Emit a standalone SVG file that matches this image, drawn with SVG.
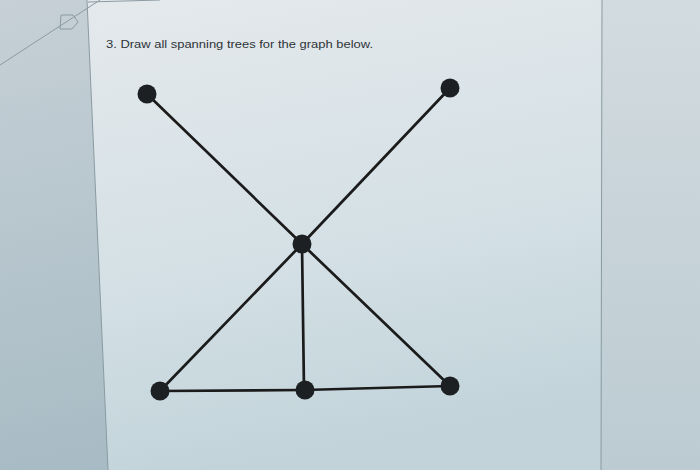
<svg xmlns="http://www.w3.org/2000/svg" width="700" height="470" viewBox="0 0 700 470">
<defs>
<linearGradient id="bg" x1="0" y1="0" x2="0.3" y2="1">
<stop offset="0" stop-color="#c6d0d6"/>
<stop offset="1" stop-color="#a6bac3"/>
</linearGradient>
<linearGradient id="paper" x1="0" y1="0" x2="0.2" y2="1">
<stop offset="0" stop-color="#e4e9ec"/>
<stop offset="0.6" stop-color="#d4e0e5"/>
<stop offset="1" stop-color="#c2d4da"/>
</linearGradient>
<linearGradient id="right" x1="0" y1="0" x2="0" y2="1">
<stop offset="0" stop-color="#d2dbe0"/>
<stop offset="1" stop-color="#bccbd2"/>
</linearGradient>
<style>
.edge{stroke:#1b1b1b;stroke-width:2.7;stroke-linecap:round;fill:none}
.node{fill:#1c2022}
.border{stroke:#8a9aa2;stroke-width:1;fill:none}
.label{font-family:"Liberation Sans",Arial,sans-serif;font-size:11.5px;fill:#2f3438}
</style>
</defs>
<rect width="700" height="470" fill="url(#bg)"/>
<polygon points="87,0 602,0 601,470 108,470" fill="url(#paper)"/>
<polygon points="602,0 700,0 700,470 601,470" fill="url(#right)"/>
<line class="border" x1="87" y1="0" x2="108" y2="470"/>
<line class="border" x1="602" y1="0" x2="601" y2="470"/>
<line class="border" x1="0" y1="65" x2="100" y2="0"/>
<line class="border" x1="88" y1="2" x2="160" y2="0"/>
<polygon class="border" points="61,15 73,15 78,22 72,29 60,29" stroke="#5f6b72" stroke-width="1.3"/>
<text class="label" x="106" y="48" textLength="267" lengthAdjust="spacingAndGlyphs">3. Draw all spanning trees for the graph below.</text>
<g id="edges">
<line class="edge" x1="147" y1="94" x2="302" y2="244"/>
<line class="edge" x1="450" y1="88" x2="302" y2="244"/>
<line class="edge" x1="302" y1="244" x2="160" y2="391"/>
<line class="edge" x1="302" y1="244" x2="304" y2="390"/>
<line class="edge" x1="302" y1="244" x2="450" y2="386"/>
<line class="edge" x1="160" y1="391" x2="304" y2="390"/>
<line class="edge" x1="304" y1="390" x2="450" y2="386"/>
</g>
<g id="n-tl"><circle class="node" cx="147" cy="94" r="9.5"/></g>
<g id="n-tr"><circle class="node" cx="450" cy="88" r="9.5"/></g>
<g id="n-c"><circle class="node" cx="302" cy="244" r="9.5"/></g>
<g id="n-bl"><circle class="node" cx="160" cy="391" r="9.5"/></g>
<g id="n-bm"><circle class="node" cx="305" cy="390" r="9.5"/></g>
<g id="n-br"><circle class="node" cx="450" cy="386" r="9.5"/></g>
</svg>
